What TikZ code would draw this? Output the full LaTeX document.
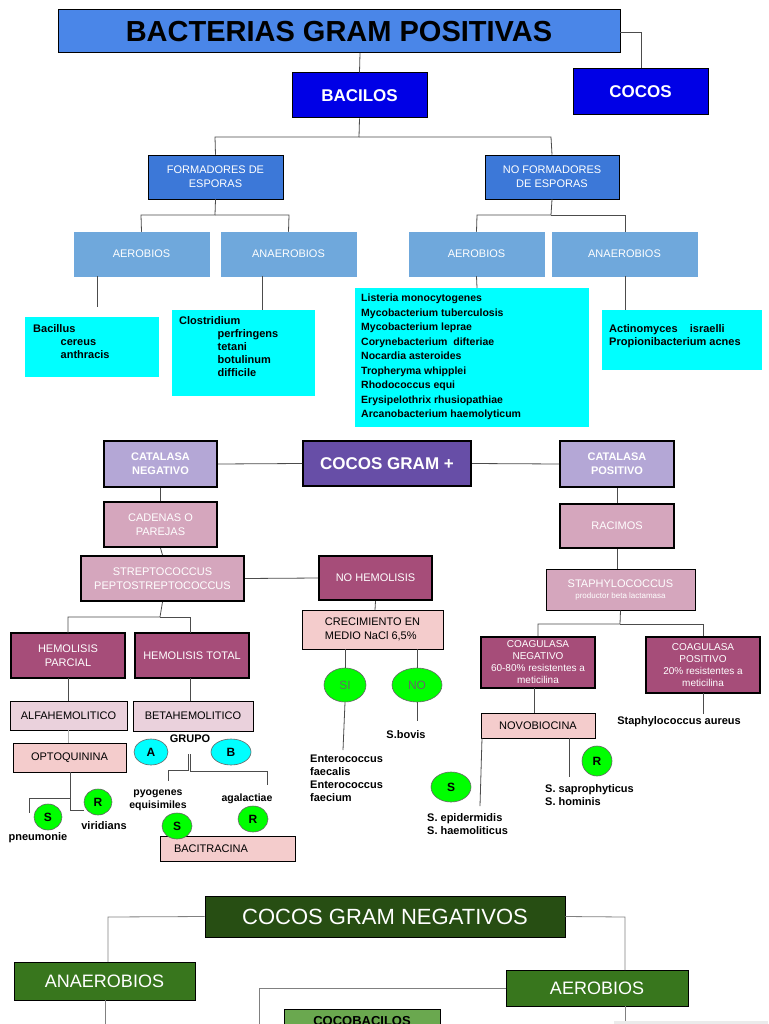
\documentclass[tikz,border=0pt]{standalone}
\usepackage{fontspec}
\setmainfont{Liberation Sans}
\begin{document}
\begin{tikzpicture}[x=1pt,y=-1pt,
 ln/.style={draw=black!70,line width=0.8pt},
 bx/.style={draw=black,line width=1pt,align=center,inner sep=1pt},
 tk/.style={draw=black,line width=2pt,align=center,inner sep=1pt},
 ov/.style={ellipse,draw=black!60,line width=0.6pt,inner sep=0pt,font=\bfseries\fontsize{12}{12}\selectfont},
 lbl/.style={font=\bfseries\fontsize{11}{13}\selectfont,align=left,inner sep=0pt}]
\usetikzlibrary{shapes.geometric}
\definecolor{tblue}{RGB}{74,134,232}
\definecolor{dblue}{RGB}{0,0,230}
\definecolor{mblue}{RGB}{60,120,216}
\definecolor{lblue}{RGB}{111,168,220}
\definecolor{cyanb}{RGB}{0,255,255}
\definecolor{lav}{RGB}{180,167,214}
\definecolor{purp}{RGB}{103,78,167}
\definecolor{pink}{RGB}{213,166,189}
\definecolor{plum}{RGB}{166,77,121}
\definecolor{lpink}{RGB}{244,204,204}
\definecolor{vpink}{RGB}{234,209,220}
\definecolor{grn}{RGB}{0,255,0}
\definecolor{dg}{RGB}{39,78,19}
\definecolor{mg}{RGB}{56,118,29}
\definecolor{lg}{RGB}{106,168,79}
\fill[white] (0,0) rectangle (768,1024);
\useasboundingbox (0,0) rectangle (768,1024);
% helper
\newcommand{\bxx}[7]{\node[#6,minimum width=#4-#2,minimum height=#5-#3] (#1) at ({(#2+#4)/2},{(#3+#5)/2}) {#7};}
% ---- top
\bxx{title}{58}{10}{620}{53}{bx,fill=tblue,font=\bfseries\fontsize{29}{30}\selectfont}{BACTERIAS GRAM POSITIVAS}
\bxx{bac}{292}{73}{427}{118}{bx,fill=dblue,text=white,font=\bfseries\fontsize{17}{19}\selectfont}{BACILOS}
\bxx{cocos}{573}{69}{708}{115}{bx,fill=dblue,text=white,font=\bfseries\fontsize{17}{19}\selectfont}{COCOS}
\draw[ln] (360,53) -- (bac.north);
\draw[ln] (620,32) -- (641,32) -- (cocos.north -| 641,0);
\tikzset{sm/.style={bx,line width=0.5pt,text=white,font=\fontsize{11}{14}\selectfont}}
\bxx{form}{148}{155}{283}{199}{sm,fill=mblue}{FORMADORES DE\\ESPORAS}
\bxx{noform}{485}{155}{619}{199}{sm,fill=mblue}{NO FORMADORES\\DE ESPORAS}
\draw[ln] (bac.south) -- (359,137) -- (215,137) -- (form.north);
\draw[ln] (359,137) -- (551,137) -- (noform.north);
\bxx{a1}{74}{232}{209}{276}{sm,draw=lblue,fill=lblue}{AEROBIOS}
\bxx{an1}{221}{232}{356}{276}{sm,draw=lblue,fill=lblue}{ANAEROBIOS}
\bxx{a2}{409}{232}{544}{276}{sm,draw=lblue,fill=lblue}{AEROBIOS}
\bxx{an2}{552}{232}{697}{276}{sm,draw=lblue,fill=lblue}{ANAEROBIOS}
\draw[ln] (form.south) -- (215,215) -- (141,215) -- (a1.north);
\draw[ln] (215,215) -- (289,215) -- (an1.north);
\draw[ln] (noform.south) -- (551,215) -- (477,215) -- (a2.north);
\draw[ln] (551,215) -- (625,215) -- (625,232);
\fill[cyanb] (25,317) rectangle (159,377);
\node[lbl,anchor=north west] (bacil) at (33,324) {Bacillus\\\hspace*{2.5em}cereus\\\hspace*{2.5em}anthracis};
\fill[cyanb] (172,310) rectangle (315,396);
\node[lbl,anchor=north west] (clos) at (179,316) {Clostridium\\\hspace*{3.5em}perfringens\\\hspace*{3.5em}tetani\\\hspace*{3.5em}botulinum\\\hspace*{3.5em}difficile};
\fill[cyanb] (355,288) rectangle (589,427);
\node[lbl,anchor=north west,font=\bfseries\fontsize{10.5}{14.5}\selectfont] (list) at (361,294) {Listeria monocytogenes\\Mycobacterium tuberculosis\\Mycobacterium leprae\\Corynebacterium\ \ difteriae\\Nocardia asteroides\\Tropheryma whipplei\\Rhodococcus equi\\Erysipelothrix rhusiopathiae\\Arcanobacterium haemolyticum};
\fill[cyanb] (602,310) rectangle (762,370);
\node[lbl,anchor=north west] (act) at (609,324) {Actinomyces\ \ \ \ israelli\\Propionibacterium acnes};
\draw[ln] (97,276) -- (97,307);
\draw[ln] (262,276) -- (262,310);
\draw[ln] (a2.south) -- (477,288);
\draw[ln] (625,276) -- (625,310);
% ---- gram +
\tikzset{pk/.style={tk,text=white,font=\fontsize{11}{14}\selectfont}}
\bxx{cn}{104}{441}{217}{487}{pk,fill=lav,font=\bfseries\fontsize{11}{14}\selectfont}{CATALASA\\NEGATIVO}
\bxx{cg}{303}{441}{471}{486}{tk,fill=purp,text=white,font=\bfseries\fontsize{17}{19}\selectfont}{COCOS GRAM +}
\bxx{cp}{560}{441}{674}{487}{pk,fill=lav,font=\bfseries\fontsize{11}{14}\selectfont}{CATALASA\\POSITIVO}
\draw[ln] (cn.east) -- (cg.west); \draw[ln] (cg.east) -- (cp.west);
\bxx{cad}{104}{502}{217}{547}{pk,fill=pink}{CADENAS O\\PAREJAS}
\bxx{rac}{560}{504}{674}{548}{pk,fill=pink}{RACIMOS}
\draw[ln] (cn.south) -- (cad.north); \draw[ln] (cp.south) -- (rac.north);
\bxx{strep}{81}{556}{244}{601}{pk,fill=pink}{STREPTOCOCCUS\\PEPTOSTREPTOCOCCUS}
\bxx{noh}{319}{556}{432}{600}{pk,fill=plum}{NO HEMOLISIS}
\draw[ln] (cad.south) -- (strep.north); \draw[ln] (strep.east) -- (noh.west);
\bxx{staph}{546}{569}{695}{610}{pk,fill=pink,line width=1pt}{STAPHYLOCOCCUS\\[-3pt]{\fontsize{8}{9}\selectfont productor beta lactamasa}}
\draw[ln] (rac.south) -- (617,569);
\bxx{hp}{11}{633}{125}{678}{pk,fill=plum}{HEMOLISIS\\PARCIAL}
\bxx{ht}{135}{633}{249}{678}{pk,fill=plum}{HEMOLISIS TOTAL}
\draw[ln] (strep.south) -- (160,617) -- (68,617) -- (68,633);
\draw[ln] (160,617) -- (190,617) -- (190,633);
\bxx{cre}{302}{610}{443}{649}{bx,fill=lpink,font=\fontsize{11}{14}\selectfont,align=left}{CRECIMIENTO EN\\MEDIO NaCl 6,5\%}
\draw[ln] (noh.south) -- (375,610);
\tikzset{lp/.style={bx,line width=1pt,font=\fontsize{11}{13}\selectfont}}
\bxx{alfa}{10}{701}{127}{730}{lp,fill=vpink}{ALFAHEMOLITICO}
\bxx{beta}{133}{701}{253}{731}{lp,fill=vpink}{BETAHEMOLITICO}
\bxx{opto}{13}{743}{126}{772}{lp,fill=lpink}{OPTOQUININA}
\draw[ln] (68,678) -- (68,701); \draw[ln] (190,678) -- (190,701);
\draw[ln,black!30] (68,730) -- (68,743);
\node[ov,fill=grn,minimum width=28,minimum height=26] (s1) at (48,817) {S};
\node[ov,fill=grn,minimum width=28,minimum height=26] (r1) at (98,802) {R};
\draw[ln] (70,772) -- (70,810) -- (r1.west |- 70,810);
\draw[ln] (70,798) -- (29,798) -- (29,813);
\node[lbl] (pn) at (38,838) {pneumonie};
\node[lbl] (vir) at (104,826) {viridians};
\node[ov,fill=cyanb,minimum width=34,minimum height=26] (ga) at (151,752) {A};
\node[ov,fill=cyanb,minimum width=40,minimum height=26] (gb) at (231,752) {B};
\node[lbl] (grupo) at (190,739) {GRUPO};
\draw[ln] (188,754) -- (188,770) -- (168,770) -- (168,781);
\draw[ln] (190,754) -- (190,771) -- (267,771) -- (267,785);
\node[lbl,align=center,font=\bfseries\fontsize{10.5}{13}\selectfont] (pyo) at (158,800) {pyogenes\\equisimiles};
\node[lbl,font=\bfseries\fontsize{10.5}{13}\selectfont] (aga) at (247,799) {agalactiae};
\bxx{baci}{160}{836}{295}{861}{lp,fill=lpink,line width=0.8pt,align=left}{\hspace*{-3em}BACITRACINA}
\node[ov,fill=grn,minimum width=30,minimum height=26] (s2) at (177,826) {S};
\node[ov,fill=grn,minimum width=30,minimum height=26] (r2) at (253,819) {R};
\node[ov,fill=grn,minimum width=42,minimum height=34,font=\fontsize{12}{12}\selectfont,text=black!60] (si) at (345,685) {SI};
\node[ov,fill=grn,minimum width=50,minimum height=34,font=\fontsize{12}{12}\selectfont,text=black!60] (no) at (417,685) {NO};
\draw[ln] (345,649) -- (si.north); \draw[ln] (417,649) -- (no.north);
\draw[ln] (si.south) -- (343,750); \draw[ln] (no.south) -- (417,721);
\node[lbl,anchor=north west] (ent) at (310,755) {Enterococcus\\faecalis\\Enterococcus\\faecium};
\node[lbl] (bov) at (406,735) {S.bovis};
\bxx{cneg}{481}{637}{595}{688}{pk,fill=plum,font=\fontsize{10}{12}\selectfont}{COAGULASA\\NEGATIVO\\60-80\% resistentes a\\meticilina}
\bxx{cpos}{646}{637}{760}{693}{pk,fill=plum,font=\fontsize{10}{12}\selectfont}{COAGULASA\\POSITIVO\\20\% resistentes a\\meticilina}
\draw[ln] (staph.south) -- (620,624) -- (538,624) -- (cneg.north);
\draw[ln] (620,624) -- (703,624) -- (cpos.north);
\bxx{novo}{481}{713}{595}{738}{lp,fill=lpink}{NOVOBIOCINA}
\draw[ln] (534,688) -- (534,713);
\node[ov,fill=grn,minimum width=40,minimum height=30] (s3) at (451,787) {S};
\node[ov,fill=grn,minimum width=30,minimum height=30] (r3) at (597,761) {R};
\draw[ln] (482,738) -- (480,806); \draw[ln] (569,738) -- (569,777);
\node[lbl,anchor=north west] (epi) at (427,813) {S. epidermidis\\S. haemoliticus};
\node[lbl,anchor=north west] (sap) at (545,784) {S. saprophyticus\\S. hominis};
\draw[ln] (703,693) -- (703,714);
\node[lbl] (aur) at (679,722) {Staphylococcus aureus};
% ---- gram -
\tikzset{gn/.style={bx,line width=0.6pt,text=white,font=\fontsize{18}{20}\selectfont}}
\bxx{cgn}{205}{896}{565}{937}{gn,fill=dg,font=\fontsize{22}{24}\selectfont}{COCOS GRAM NEGATIVOS}
\bxx{ana}{14}{962}{195}{1000}{gn,fill=mg}{ANAEROBIOS}
\bxx{aer}{506}{970}{688}{1006}{gn,fill=mg}{AEROBIOS}
\draw[ln,black!50] (cgn.west) -- (108,917) -- (108,962);
\draw[ln,black!50] (cgn.east) -- (625,917) -- (625,970);
\draw[ln,black!50] (506,988) -- (259,988) -- (259,1024);
\draw[ln,black!50] (105,1000) -- (105,1024);
\draw[ln,black!50] (625,1006) -- (625,1024);
\bxx{coco}{284}{1009}{440}{1034}{bx,line width=0.6pt,fill=lg,font=\bfseries\fontsize{13}{14}\selectfont}{COCOBACILOS}
\fill[black!8] (614,1021) rectangle (768,1024);
\end{tikzpicture}
\end{document}
